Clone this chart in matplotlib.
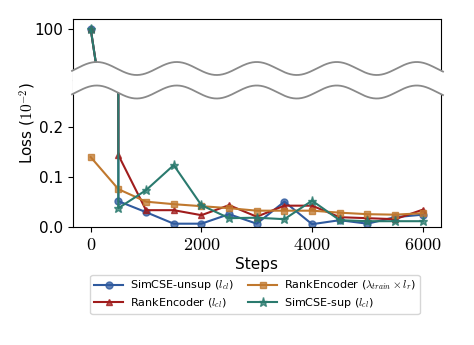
import numpy as np
import matplotlib
matplotlib.use('Agg')
import matplotlib.pyplot as plt
from matplotlib.colors import to_rgba

plt.rcParams['font.family'] = ['DejaVu Sans']
plt.rcParams['mathtext.fontset'] = 'cm'

# Loss values (x 10^-2) recorded every 500 steps
STEPS = [0, 500, 1000, 1500, 2000, 2500, 3000, 3500, 4000, 4500, 5000, 5500, 6000]
SIMCSE_UNSUP = [100, 0.051, 0.029, 0.006, 0.006, 0.025, 0.006, 0.050, 0.005, 0.013, 0.006, 0.019, 0.024]
RANK_CL = [100, 0.143, 0.033, 0.033, 0.023, 0.043, 0.020, 0.042, 0.042, 0.019, 0.017, 0.015, 0.034]
RANK_R = [0.139, 0.075, 0.050, 0.045, 0.041, 0.037, 0.032, 0.032, 0.032, 0.028, 0.025, 0.024, 0.027]
SIMCSE_SUP = [100, 0.037, 0.073, 0.123, 0.043, 0.017, 0.018, 0.015, 0.052, 0.013, 0.011, 0.011, 0.011]

SERIES = [
    (SIMCSE_UNSUP, r'SimCSE-unsup ($l_{cl}$)', '#2f5a9e', 'o'),
    (RANK_CL, r'RankEncoder ($l_{cl}$)', '#a01c1c', '^'),
    (RANK_R, r'RankEncoder ($\lambda_{train} \times l_r$)', '#c0782e', 's'),
    (SIMCSE_SUP, r'SimCSE-sup ($l_{cl}$)', '#2a7a6e', '*'),
]

W, H = 474, 345
fig = plt.figure(figsize=(W / 100, H / 100), dpi=100)

def px_box(left, top, right, bottom):
    return [left / W, 1 - bottom / H, (right - left) / W, (bottom - top) / H]

ax_top = fig.add_axes(px_box(73, 19, 441, 80))
ax_bot = fig.add_axes(px_box(73, 80, 441, 226.7))

handles = []
for ax in (ax_top, ax_bot):
    for vals, label, color, marker in SERIES:
        ms = 6.5 if marker == '*' else 5
        h, = ax.plot(STEPS, vals, color=color, lw=1.5, marker=marker, ms=ms,
                     mfc=to_rgba(color, 0.75), mec=to_rgba(color, 0.8), mew=1,
                     label=label)
        if ax is ax_bot:
            handles.append(h)
    ax.set_xlim(-320, 6330)

ax_top.set_ylim(72, 105.5)
ax_top.set_yticks([100])
ax_top.set_yticklabels(['100'], fontsize=11)
ax_top.set_xticks([])
ax_top.spines['bottom'].set_visible(False)

ax_bot.set_ylim(0, 0.293)
ax_bot.set_yticks([0.0, 0.1, 0.2])
ax_bot.set_yticklabels(['0.0', '0.1', '0.2'], fontsize=11)
ax_bot.spines['top'].set_visible(False)
ax_bot.set_xticks([0, 2000, 4000, 6000])
ax_bot.set_xticklabels([f'${v}$' for v in [0, 2000, 4000, 6000]], fontsize=13)
ax_bot.set_xlabel('Steps', fontsize=11, labelpad=2)

# wavy break marks between the two panels
gap = fig.add_axes([0, 0, 1, 1], zorder=10)
gap.set_xlim(0, W)
gap.set_ylim(H, 0)
gap.axis('off')
gap.patch.set_alpha(0)
xs = np.linspace(72, 443, 400)
wave = 6.5 * np.cos(2 * np.pi * (xs - 96.7) / 80)
upper = 68.5 - wave
lower = 92.0 - wave
gap.fill_between(xs, upper, lower, color='white', lw=0)
gap.plot(xs, upper, color='#8a8a8a', lw=1.3)
gap.plot(xs, lower, color='#8a8a8a', lw=1.3)

fig.text(28 / W, 1 - 123 / H, r'Loss ($10^{-2}$)', rotation=90,
         ha='center', va='center', fontsize=11)

fig.legend(handles=handles, loc='upper center', ncol=2,
           bbox_to_anchor=(255 / W, 1 - 269 / H), fontsize=8,
           handlelength=2.6, handletextpad=0.6, columnspacing=1.3,
           labelspacing=0.35, borderpad=0.35,
           frameon=True, fancybox=True, edgecolor='#cccccc')

fig.savefig('out.png', dpi=100)
